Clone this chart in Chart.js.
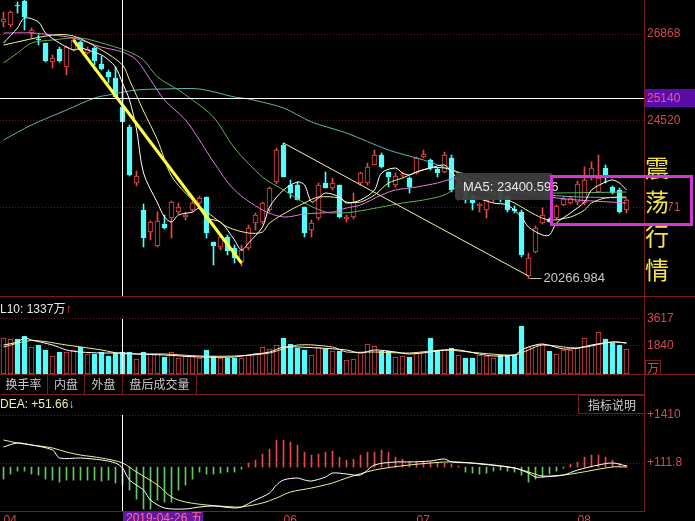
<!DOCTYPE html>
<html><head><meta charset="utf-8"><title>K线图</title>
<script src="https://cdn.jsdelivr.net/npm/chart.js@4.4.1/dist/chart.umd.min.js"></script>
<style>
html,body{margin:0;padding:0;background:#000;}
#wrap{position:relative;width:695px;height:521px;overflow:hidden;background:#000;font-family:"Liberation Sans",Arial,"Noto Sans CJK SC",sans-serif;}
#wrap canvas{position:absolute;left:0;}
.ov{position:absolute;white-space:nowrap;}
.hl{position:absolute;height:1px;background:#7a1c1c;}
.tab{position:absolute;top:375px;height:19px;line-height:19px;border-right:1px solid #7a1c1c;color:#c8c8c8;font:12px "Noto Sans CJK SC",sans-serif;text-align:center;}
</style></head>
<body><div id="wrap">
<canvas id="cMain" width="695" height="296" style="top:0"></canvas>
<canvas id="cVol" width="695" height="77" style="top:297px"></canvas>
<canvas id="cMacd" width="695" height="127" style="top:394px"></canvas>
<div class="hl" style="left:0;top:296px;width:695px"></div>
<div class="hl" style="left:0;top:374px;width:695px"></div>
<div class="hl" style="left:0;top:394px;width:645px"></div>
<div style="position:absolute;left:644px;top:0;width:1px;height:512px;background:#7a1c1c"></div>
<div class="ov" style="left:0;top:299px;color:#e6e6e6;font-size:12px">L10: 1337万<span style="color:#ff4040">↑</span></div>
<div class="tab" style="left:0;width:47px">换手率</div>
<div class="tab" style="left:48px;width:36px">内盘</div>
<div class="tab" style="left:85px;width:37px">外盘</div>
<div class="tab" style="left:123px;width:73px">盘后成交量</div>
<div class="ov" style="left:0;top:397px;color:#eeeeb4;font-size:12px">DEA: +51.66<span style="color:#54fcfc">↓</span></div>
<div class="ov" style="left:578px;top:395px;width:66px;height:17px;line-height:17px;border:1px solid #7a1c1c;border-right:none;color:#d0d0d0;font:12px 'Noto Sans CJK SC',sans-serif;text-align:center">指标说明</div>
<div class="ov" style="left:645px;top:360px;width:14px;height:13px;border:1px solid #7a1c1c;color:#d04a50;font:12px 'Noto Sans CJK SC',sans-serif;line-height:13px;text-align:center">万</div>
<div class="ov" style="left:455px;top:173px;width:98px;height:27px;background:rgba(62,62,62,0.94);border-radius:3px;color:#e8e8e8;font-size:13px;line-height:27px;padding-left:8px;box-sizing:border-box">MA5: 23400.596</div>
<div class="ov" style="left:645px;top:150px;width:24px;font:24px/34px 'Noto Sans CJK SC',sans-serif;color:#f2e44a;background:#000;text-align:center;white-space:normal">震<br>荡<br>行<br>情</div>
<div style="position:absolute;left:550px;top:175px;width:137px;height:45px;border:3px solid #d236d2;"></div>
</div>
<script>
// ---- categories (trading days 2019) ----
const dates = ['04-02','04-03','04-04','04-08','04-09','04-10','04-11','04-12','04-15','04-16','04-17','04-18','04-19','04-22','04-23','04-24','04-25','04-26','04-29','04-30',
'05-06','05-07','05-08','05-09','05-10','05-13','05-14','05-15','05-16','05-17','05-20','05-21','05-22','05-23','05-24','05-27','05-28','05-29','05-30','05-31',
'06-03','06-04','06-05','06-06','06-10','06-11','06-12','06-13','06-14','06-17','06-18','06-19','06-20','06-21','06-24','06-25','06-26','06-27','06-28',
'07-01','07-02','07-03','07-04','07-05','07-08','07-09','07-10','07-11','07-12','07-15','07-16','07-17','07-18','07-19','07-22','07-23','07-24','07-25','07-26','07-29','07-30','07-31',
'08-01','08-02','08-05','08-06','08-07','08-08','08-09','08-12'];
const crossDate = '04-26';
const crossLabel = '2019-04-26 五';

// ---- OHLC ----
const open = [27192,27111,27651,27759,26895,26733,26625,26112,26463,25977,26436,26652,26355,26490,26058,25842,25680,24897,24357,22845,
22116,21522,21144,21738,21900,22062,21927,22116,22305,22467,21252,21117,21387,21090,20712,21090,21765,21792,22116,22872,
23871,22791,22791,22197,21576,21900,22845,22710,22791,21873,21927,22845,22845,23331,23601,23142,22791,23061,22980,23115,
23547,23466,23223,23142,23520,22521,22656,22494,22224,22116,22386,22602,22494,22143,22062,20334,20982,21765,21873,21900,
22251,22305,22332,22305,22980,22602,23250,22737,22656,22116];
const close = [27273,27462,27624,27327,26976,26706,26139,26220,26139,26517,26706,26436,26463,26139,25923,25707,25167,24492,23061,23034,
21360,21792,21819,21630,22332,22197,21981,22305,22440,21495,21144,21387,21009,20820,21036,21630,21981,22305,22710,23736,
23007,22575,22386,21495,21765,22791,22710,22845,21927,21927,22332,23115,23277,23601,23277,23007,23034,23088,22737,23520,
23628,23250,23115,23601,22656,22791,22386,22305,22278,22386,22575,22386,22116,22089,20901,20820,21630,21981,21792,22224,
22413,22440,22818,22926,23250,22980,23034,22575,22062,22386];
const high = [27462,27489,27732,27786,27030,26841,26625,26301,26517,26544,26760,26679,26517,26517,26274,25896,25977,25437,24411,23169,
22278,21819,22062,21981,22359,22305,22062,22386,22494,22467,21252,21441,21441,21171,21171,21711,22035,22332,22737,23790,
23925,22926,22872,22197,21846,22845,23142,22980,22791,21981,22575,23142,23385,23736,23655,23142,23115,23142,23007,23547,
23736,23493,23250,23682,23601,22926,22791,22548,22305,22440,22656,22656,22548,22224,22116,20955,21684,22170,21900,22251,
22467,22494,22899,23277,23412,23601,23331,22764,22710,22413];
const low = [27057,27057,27435,26976,26760,26571,26112,25950,26112,25761,26409,26436,26328,26031,25896,25545,25167,24492,23034,22764,
21117,21306,21117,21603,21360,22008,21846,22062,22251,21360,20631,21036,20901,20685,20604,21036,21576,21738,22062,22818,
23007,22440,22386,21387,21387,21846,22710,22656,21900,21792,21873,22791,22791,23331,23250,22737,22737,23007,22575,23088,
23520,23196,23007,23115,22602,22386,22305,22116,22062,21900,22332,22332,22062,22035,20847,20266.984,20955,21738,21792,21873,
22224,22278,22251,22251,22926,22602,22845,22548,22035,22035];

// ---- moving averages: [dayIndex, value] ----
const ma5 = [[0,26625],[2,27030],[3,27300],[5,27192],[6,26895],[8,26625],[10,26436],[11,26490],[12,26436],[14,26301],[15,26166],[16,25977],[17,25545],[18,25086],[19,24300],[20,23115],[22,22305],[23,21927],[24,21792],[25,21981],[27,22062],[28,22170],[29,21900],[31,21792],[33,21306],[34,21036],[35,21225],[37,21657],[38,22197],[40,22656],[42,22872],[43,22791],[44,22332],[45,22440],[46,22575],[48,22467],[49,22305],[51,22386],[53,22656],[54,23115],[56,23250],[57,23115],[58,23061],[59,23142],[61,23250],[63,23331],[64,23142],[67,22521],[70,22305],[72,22251],[74,21927],[75,21657],[77,21441],[78,21441],[79,21765],[81,22035],[83,22332],[84,22656],[86,22872],[87,22926],[88,22845],[89,22656]];
const ma10 = [[0,26571],[7,26841],[10,26814],[14,26436],[17,26031],[18,25626],[20,24789],[22,24006],[24,23034],[27,22386],[30,21927],[32,21657],[35,21495],[37,21522],[38,21765],[41,22116],[43,22305],[45,22467],[48,22440],[49,22332],[51,22332],[53,22521],[55,22845],[57,22980],[59,23142],[61,23250],[63,23250],[65,23115],[68,22710],[71,22467],[73,22305],[76,21981],[78,21846],[81,21927],[83,22116],[84,22305],[86,22440],[89,22467]];
const ma20 = [[0,26895],[4,26895],[7,26841],[10,26760],[14,26517],[17,26382],[19,26166],[21,25626],[23,25086],[26,24546],[28,24006],[30,23412],[33,22656],[37,22116],[40,21927],[43,22008],[47,22062],[49,22170],[51,22251],[54,22521],[56,22656],[59,22737],[62,22845],[65,22980],[70,22791],[74,22602],[78,22467],[82,22386],[89,22305]];
const ma30 = [[0,26085],[2,26355],[4,26625],[7,26706],[11,26760],[15,26571],[18,26382],[20,26166],[22,25707],[25,25356],[27,25086],[30,24627],[33,23790],[37,23007],[40,22656],[43,22305],[46,22062],[48,22035],[50,22062],[54,22197],[57,22305],[60,22386],[63,22521],[65,22737],[69,22656],[74,22575],[79,22575],[89,22602]];
const ma60 = [[0,24006],[4,24411],[9,24816],[13,25140],[15,25221],[19,25356],[23,25383],[28,25383],[33,25167],[35,25113],[40,24870],[44,24492],[49,24195],[55,23736],[60,23466],[65,23142],[71,22845],[78,22521],[89,22440]];
const trendA = [[10,26706],[34,20685]];
const trendB = [[40,23925],[75,20334]];

// ---- volume (万) ----
const volume = [2365,2300,2300,2497,1774,1905,1577,1183,1445,1445,1577,1774,1314,1314,1445,1183,1380,1445,1445,986,
1445,1314,1314,1117,1445,1051,1183,1183,1051,1577,1183,1051,1051,1051,1051,1248,1380,1774,1643,1905,
2365,1971,1708,1577,1248,1774,1643,1511,1511,920,986,1445,1971,1840,1511,1511,1117,1183,1117,1380,
1445,2365,1577,1577,1708,1248,1051,1051,1248,1183,1051,1248,1248,1248,3154,1774,1905,1971,1511,1314,
1577,1577,1708,2365,1905,2759,2300,2037,1905,1643];
const volMa5 = [[0,1905],[2,2102],[3,2365],[4,2234],[7,1905],[9,1577],[11,1445],[14,1380],[17,1380],[19,1314],[23,1248],[28,1117],[33,1117],[35,1248],[38,1445],[40,1774],[42,1774],[45,1708],[49,1577],[51,1380],[53,1577],[56,1445],[58,1314],[61,1445],[63,1577],[65,1577],[68,1314],[70,1183],[73,1248],[74,1577],[75,1774],[77,1971],[80,1643],[82,1708],[84,1905],[87,2102],[89,2037]];
const volMa10 = [[0,1774],[4,2200],[9,1905],[14,1577],[17,1337],[23,1314],[28,1183],[33,1183],[38,1380],[42,1905],[47,1774],[49,1445],[53,1445],[58,1380],[63,1577],[68,1380],[73,1248],[75,1577],[77,1905],[82,1708],[87,2102],[89,2037]];

// ---- MACD ----
const macdHist = [-325,-189,-108,-108,-189,-216,-325,-352,-406,-352,-352,-352,-352,-352,-379,-352,-433,-487,-622,-866,
-1136,-1136,-893,-947,-947,-622,-487,-325,-135,-189,-189,-162,-135,-135,-54,108,189,352,487,730,
730,676,595,406,325,352,406,433,271,189,216,325,406,406,460,406,271,216,162,135,
162,135,108,108,81,27,-135,-162,-189,-162,-108,-81,-108,-135,-216,-406,-325,-271,-189,-108,
-27,81,135,271,325,325,271,189,108,54];
const dif = [[0,545],[2,653],[4,599],[7,464],[8,247],[11,247],[14,193],[16,112],[17,-24],[18,-348],[20,-619],[21,-889],[23,-1105],[26,-1132],[28,-1078],[30,-1051],[33,-1105],[34,-1078],[36,-889],[38,-700],[39,-483],[40,-348],[42,-294],[43,-348],[44,-375],[46,-267],[47,-159],[49,-186],[51,-213],[53,58],[56,139],[58,139],[61,166],[63,220],[64,139],[67,112],[70,58],[73,-24],[75,-159],[76,-267],[77,-267],[80,-213],[82,-78],[85,58],[87,112],[89,31]];
const dea = [[0,734],[2,653],[4,599],[7,518],[9,409],[11,328],[14,247],[17,112],[19,-132],[22,-483],[24,-808],[26,-943],[29,-1024],[33,-1078],[34,-1078],[37,-970],[39,-835],[41,-673],[44,-565],[47,-429],[49,-294],[53,-78],[58,58],[63,139],[65,139],[68,85],[73,-24],[75,-132],[77,-240],[80,-213],[82,-159],[87,4],[89,4]];

// ---- axis ticks ----
const priceTicks = [26868, 24520, 22171];
const priceLine = 25140;
const volTicks = [3617, 1840];
const macdTicks = [1410, 111.8];

// ================= build =================
const labels = dates.concat(['', '']);
const crossIdx = dates.indexOf(crossDate);
const AX = '#d04a50', RED = '#e84848', CYAN = '#54fcfc', GREEN = '#62c862';
const up = close.map((c, i) => c >= open[i]);
function sparse(pts) { const a = new Array(labels.length).fill(null); pts.forEach(([i, v]) => { a[i] = v; }); return a; }
function monthLabel(i) {
  if (i >= dates.length) return '';
  const m = dates[i].slice(0, 2);
  return (i === 0 || m !== dates[i - 1].slice(0, 2)) ? m : '';
}
function yAxis(min, max, ticks, fmt) {
  return {
    position: 'right', min, max,
    afterBuildTicks: s => { s.ticks = ticks.map(v => ({ value: v })); },
    afterFit: s => { s.width = 51; s.paddingTop = 0; s.paddingBottom = 0; },
    ticks: { color: AX, font: { size: 12, family: 'Liberation Sans' }, padding: 3, callback: fmt },
    grid: { color: '#6a1c1c', drawTicks: false, lineWidth: 1 },
    border: { display: true, color: '#7a1c1c', dash: [1, 2] }
  };
}
const hiddenX = { type: 'category', offset: true, display: false, afterFit: s => { s.paddingLeft = 0; s.paddingRight = 0; } };
function lineDs(pts, color, width, order) {
  return { type: 'line', data: sparse(pts), borderColor: color, borderWidth: width, pointRadius: 0, spanGaps: true, tension: 0.3, order };
}
function crossPlugin(topValue) {
  return {
    id: 'cross',
    afterDatasetsDraw(chart) {
      const { ctx, chartArea: a, scales: { x, y } } = chart;
      const px = Math.floor(x.getPixelForValue(crossIdx)) + 0.5;
      const top = topValue == null ? a.top : Math.round(y.getPixelForValue(topValue));
      ctx.save();
      ctx.strokeStyle = '#ffffff'; ctx.lineWidth = 1;
      ctx.beginPath(); ctx.moveTo(px, top); ctx.lineTo(px, a.bottom); ctx.stroke();
      ctx.restore();
    }
  };
}
const common = { responsive: false, animation: false, devicePixelRatio: 1, events: [], layout: { padding: 0 },
  plugins: { legend: { display: false }, tooltip: { enabled: false } } };

// ---- main candlestick chart ----
const priceMax = 27786, priceMin = 19794;
new Chart(document.getElementById('cMain'), {
  type: 'bar',
  data: { labels, datasets: [
    { type: 'line', data: sparse(trendA), borderColor: '#ffff3c', borderWidth: 3, pointRadius: 0, spanGaps: true, tension: 0, order: 0 },
    { type: 'line', data: sparse(trendB), borderColor: '#f2f2a8', borderWidth: 1, pointRadius: 0, spanGaps: true, tension: 0, order: 0 },
    lineDs(ma5, '#ffffff', 1, 1),
    lineDs(ma10, '#f0f08c', 1, 1),
    lineDs(ma20, '#e07ae0', 1, 1),
    lineDs(ma30, '#66b050', 1, 1),
    lineDs(ma60, '#5cb4b4', 1, 1),
    { type: 'bar', data: open.map((o, i) => [o, close[i]]), backgroundColor: up.map(u => u ? '#000' : CYAN), borderColor: up.map(u => u ? RED : CYAN), borderWidth: 1, borderSkipped: false, barThickness: 5, grouped: false, minBarLength: 1, order: 3 },
    { type: 'bar', data: low.map((l, i) => [l, high[i]]), backgroundColor: up.map(u => u ? RED : CYAN), borderWidth: 0, barThickness: 1, grouped: false, order: 4 }
  ]},
  options: Object.assign({}, common, {
    scales: { x: hiddenX, y: yAxis(priceMin, priceMax, priceTicks, v => String(v)) }
  }),
  plugins: [crossPlugin(null), {
    id: 'mainExtras',
    afterDatasetsDraw(chart) {
      const { ctx, chartArea: a, scales: { x, y } } = chart;
      ctx.save();
      const yy = Math.round(y.getPixelForValue(priceLine));
      ctx.strokeStyle = '#ffffff'; ctx.lineWidth = 1;
      ctx.beginPath(); ctx.moveTo(a.left, yy + 0.5); ctx.lineTo(a.right, yy + 0.5); ctx.stroke();
      const lo = Math.min(...low), li = low.indexOf(lo);
      const px = x.getPixelForValue(li), py = Math.round(y.getPixelForValue(lo)) + 0.5;
      ctx.strokeStyle = '#bdbdbd';
      ctx.beginPath(); ctx.moveTo(px + 1, py); ctx.lineTo(px + 13, py); ctx.stroke();
      ctx.fillStyle = '#c8c8c8'; ctx.font = '13px "Liberation Sans"'; ctx.textBaseline = 'middle'; ctx.textAlign = 'left';
      ctx.fillText(lo.toFixed(3), px + 15, py);
      ctx.restore();
    },
    afterDraw(chart) {
      const { ctx, chartArea: a, scales: { y } } = chart;
      const yy = Math.round(y.getPixelForValue(priceLine));
      ctx.save();
      ctx.fillStyle = '#5a0ca8'; ctx.fillRect(a.right + 1, yy - 9, chart.width - a.right - 1, 18);
      ctx.fillStyle = '#ee5a82'; ctx.font = '12px "Liberation Sans"'; ctx.textBaseline = 'middle'; ctx.textAlign = 'left';
      ctx.fillText(String(priceLine), a.right + 3, yy + 1);
      ctx.restore();
    }
  }]
});

// ---- volume chart ----
new Chart(document.getElementById('cVol'), {
  type: 'bar',
  data: { labels, datasets: [
    lineDs(volMa5, '#ffffff', 1, 1),
    lineDs(volMa10, '#f0e68c', 1, 1),
    { type: 'bar', data: volume, backgroundColor: up.map(u => u ? '#000' : CYAN), borderColor: up.map(u => u ? RED : CYAN), borderWidth: 1, borderSkipped: false, barThickness: 5, order: 3 }
  ]},
  options: Object.assign({}, common, {
    scales: { x: hiddenX, y: yAxis(0, 5059, volTicks, v => String(v)) }
  }),
  plugins: [crossPlugin(volTicks[0])]
});

// ---- MACD chart ----
new Chart(document.getElementById('cMacd'), {
  type: 'bar',
  data: { labels, datasets: [
    lineDs(dif, '#ffffff', 1, 1),
    lineDs(dea, '#f0f08c', 1, 1),
    { type: 'bar', data: macdHist, backgroundColor: macdHist.map(v => v >= 0 ? RED : GREEN), borderWidth: 0, barThickness: 1, order: 3 }
  ]},
  options: Object.assign({}, common, {
    scales: {
      x: { type: 'category', offset: true, display: true,
        grid: { display: false, drawTicks: false },
        border: { display: true, color: '#7a1c1c' },
        ticks: { color: AX, font: { size: 12, family: 'Liberation Sans' }, autoSkip: false, maxRotation: 0, minRotation: 0, align: 'start', padding: 2,
          callback: (v, i) => monthLabel(i) },
        afterFit: s => { s.height = 10; s.paddingLeft = 0; s.paddingRight = 0; } },
      y: yAxis(-1186.6, 1978.25, macdTicks, v => '+' + v)
    }
  }),
  plugins: [crossPlugin(macdTicks[0]), {
    id: 'dateBox',
    afterDraw(chart) {
      const { ctx, chartArea: a, scales: { x } } = chart;
      const px = Math.floor(x.getPixelForValue(crossIdx)) + 1;
      ctx.save();
      ctx.fillStyle = '#6418a0'; ctx.fillRect(px, a.bottom + 1, 80, chart.height - a.bottom - 1);
      ctx.fillStyle = '#ff6e96'; ctx.font = '12px "Liberation Sans", "Noto Sans CJK SC"'; ctx.textBaseline = 'top'; ctx.textAlign = 'left';
      ctx.fillText(crossLabel, px + 3, a.bottom + 2);
      ctx.restore();
    }
  }]
});
</script>
</body></html>
